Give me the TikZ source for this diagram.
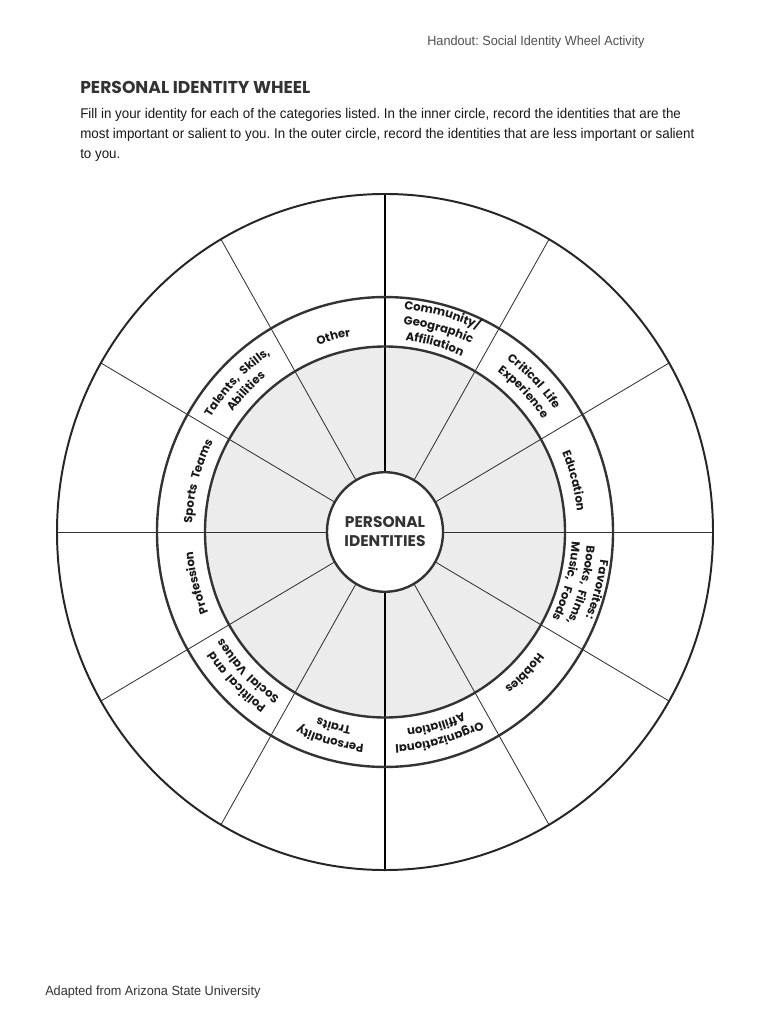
\documentclass[tikz,border=0pt]{standalone}
\usepackage{fontspec}
\setmainfont{Liberation Sans}
\newfontfamily\bodyfont{Liberation Sans}[FakeStretch=0.95]
\newfontfamily\labelfont{Poppins}
\newfontfamily\ringfam{Poppins}[LetterSpace=3]
\usetikzlibrary{decorations.text}
\definecolor{WheelInk}{HTML}{333333}
\definecolor{WheelFill}{HTML}{ECECEC}
\definecolor{HeadGray}{HTML}{505050}
\newcommand{\ringfont}{\ringfam\bfseries\fontsize{8.3}{10}\selectfont}
\newcommand{\rgap}{\hspace*{0.45em}}
\frenchspacing
\tikzset{
    % Line styles
    ringline/.style={
        draw=WheelInk,
        line width=1.7pt
    },
    outerline/.style={
        draw=black!85,
        line width=1.4pt
    },
    spokeline/.style={
        draw=WheelInk,
        line width=0.6pt
    },
    mainspoke/.style={
        draw=black,
        line width=1.3pt
    },
    % Text styles
    headtext/.style={
        inner sep=0pt,
        text=HeadGray,
        font=\bodyfont\fontsize{9.5}{11}\selectfont
    },
    titletext/.style={
        inner sep=0pt,
        text=WheelInk,
        font=\labelfont\bfseries\fontsize{12.2}{14}\selectfont
    },
    bodytext/.style={
        inner sep=0pt,
        align=left,
        text=black!90,
        font=\bodyfont\fontsize{10}{14.2}\selectfont
    },
    centertext/.style={
        inner sep=0pt,
        align=center,
        text=WheelInk,
        font=\labelfont\bfseries\fontsize{11}{13.5}\selectfont
    },
    ringtext/.style={
        decorate,
        decoration={text along path, text align=center,
            text color=black!90, text={|\ringfont|#1}}
    }
}
% one line of curved text in the ring: angle, radius, text
\newcommand{\ringlabel}[3]{%
    \path[ringtext={#3}] ({#1+50}:#2) arc[start angle={#1+50}, end angle={#1-50}, radius=#2];}

\begin{document}
\begin{tikzpicture}[x=0.025cm, y=0.025cm]
    % Page
    \fill[white] (0,0) rectangle (768,-1024);
    \path[use as bounding box] (0,0) rectangle (768,-1024);

    % Header and instructions
    \node[headtext, anchor=west] (header) at (427,-42) {Handout: Social Identity Wheel Activity};
    \node[titletext, anchor=west] (title) at (80,-87) {PERSONAL IDENTITY WHEEL};
    \node[bodytext, anchor=north west] (intro) at (80,-108) {Fill in your identity for each of the categories listed. In the inner circle, record the identities that are the\\
        most important or salient to you. In the outer circle, record the identities that are less important or salient\\
        to you.};

    % Wheel
    \begin{scope}[shift={(385,-532)}, y=0.02575cm]
        % Inner (shaded) circle
        \fill[WheelFill, even odd rule] (0,0) circle[radius=180] (0,0) circle[radius=58];

        % Spokes
        \foreach \ang in {0,30,60,120,150,180,210,240,300,330}
            \draw[spokeline] (\ang:58) -- (\ang:328);
        \draw[mainspoke] (90:58) -- (90:328);
        \draw[mainspoke] (270:58) -- (270:328);

        % Circles
        \draw[outerline] (0,0) circle[radius=328];
        \draw[ringline] (0,0) circle[radius=228];
        \draw[ringline] (0,0) circle[radius=180];
        \draw[ringline, fill=white] (0,0) circle[radius=58];
        \node[centertext] (centre) at (0,0) {PERSONAL\\IDENTITIES};

        % Ring labels
        \ringlabel{105}{193}{Other}
        \ringlabel{75}{217}{Community/}
        \ringlabel{75}{202}{Geographic}
        \ringlabel{75}{187}{Affiliation}
        \ringlabel{45}{207}{Critical{\rgap}Life}
        \ringlabel{45}{192}{Experience}
        \ringlabel{15}{193}{Education}
        \ringlabel{-15}{217}{Favorites:}
        \ringlabel{-15}{202}{Books,{\rgap}Films,}
        \ringlabel{-15}{187}{Music,{\rgap}Foods}
        \ringlabel{-45}{193}{Hobbies}
        \ringlabel{-75}{207}{Organizational}
        \ringlabel{-75}{192}{Affiliation}
        \ringlabel{-105}{207}{Personality}
        \ringlabel{-105}{192}{Traits}
        \ringlabel{-135}{207}{Political{\rgap}and}
        \ringlabel{-135}{192}{Social{\rgap}Values}
        \ringlabel{-165}{193}{Profession}
        \ringlabel{165}{193}{Sports{\rgap}Teams}
        \ringlabel{135}{207}{Talents,{\rgap}Skills,}
        \ringlabel{135}{192}{Abilities}
    \end{scope}

    % Footer
    \node[headtext, text=black!80, font=\bodyfont\fontsize{9.5}{12}\selectfont, anchor=west] (source) at (45,-992) {Adapted from Arizona State University};
\end{tikzpicture}
\end{document}
